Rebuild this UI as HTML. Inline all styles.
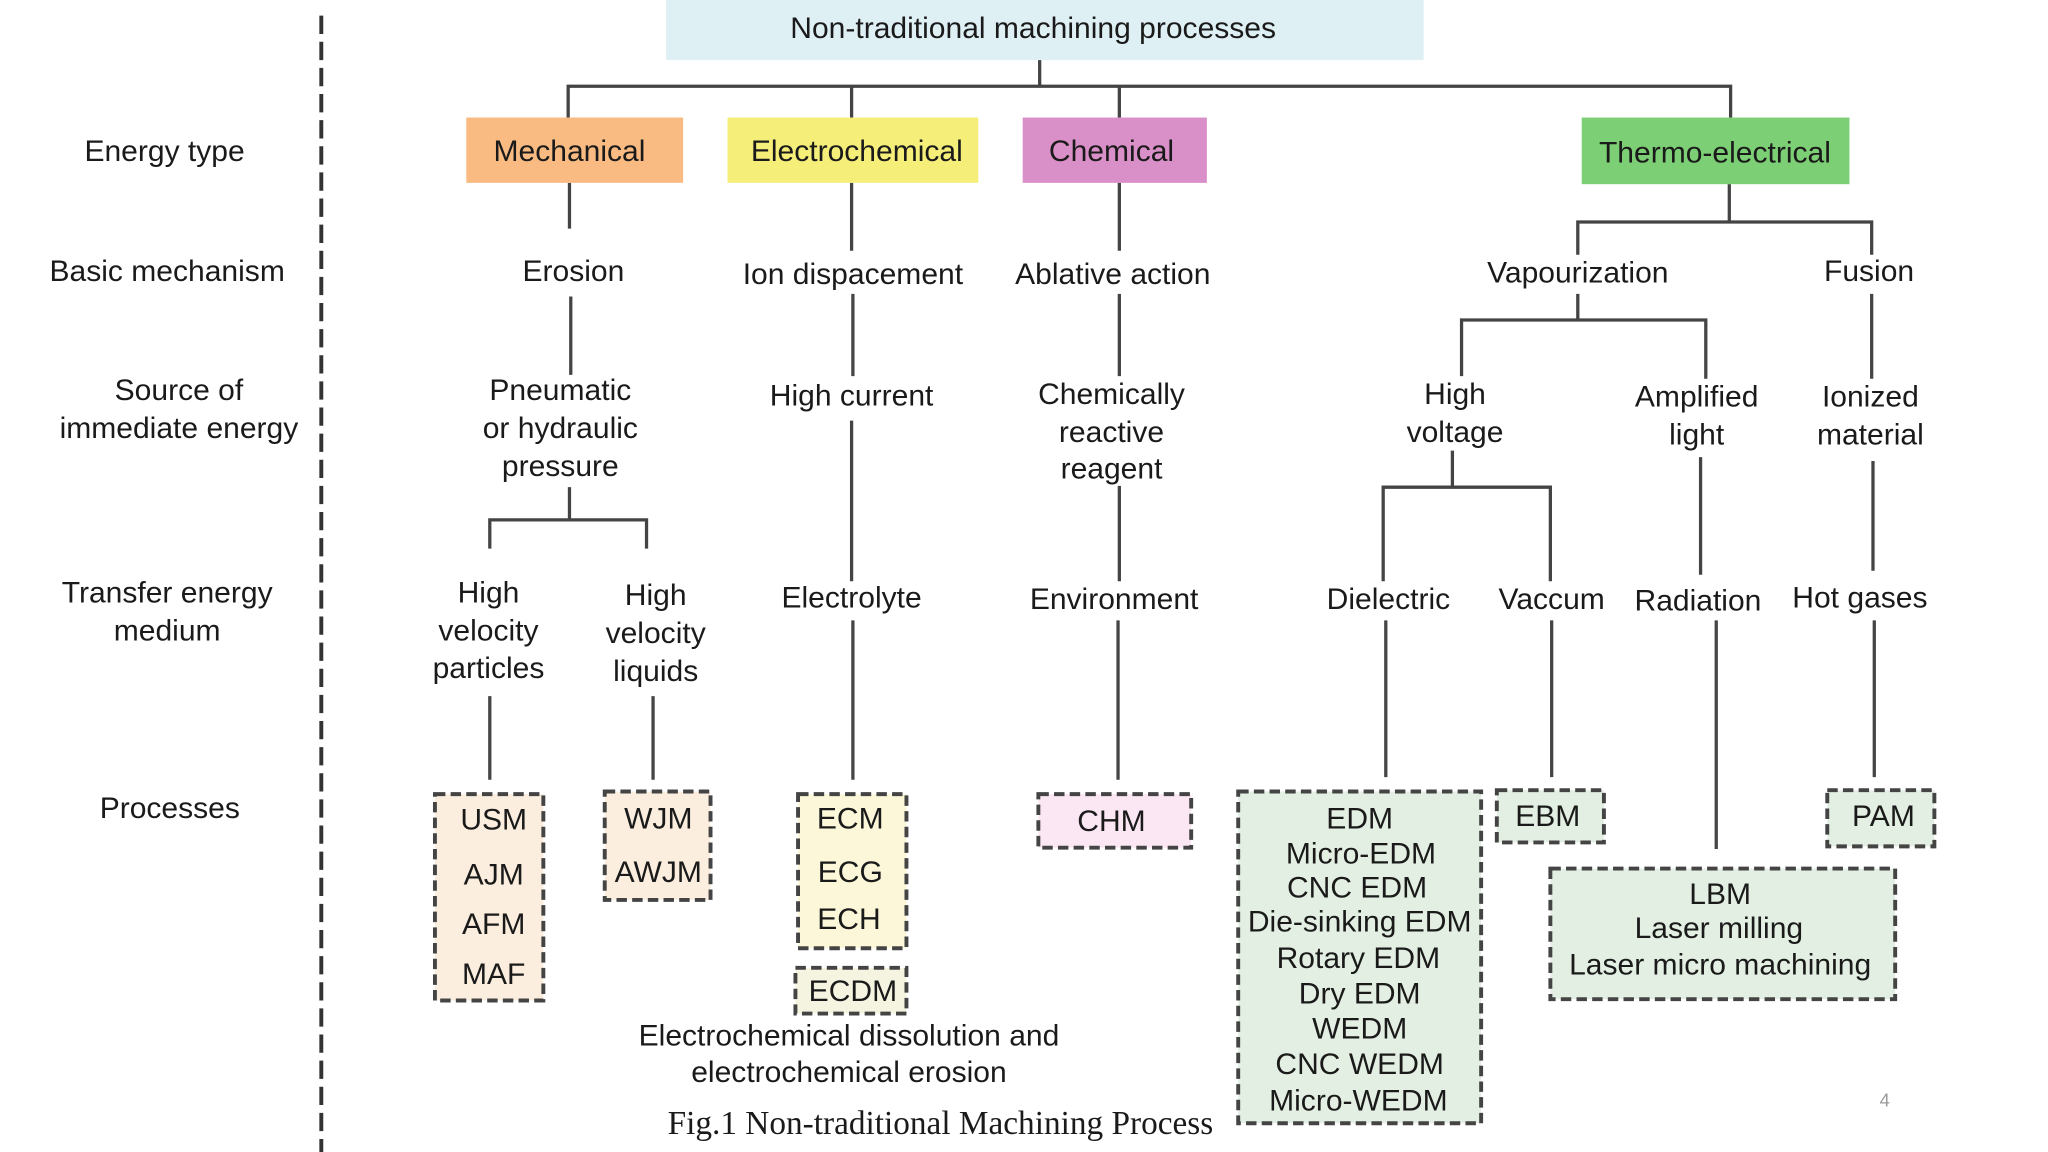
<!DOCTYPE html>
<html><head><meta charset="utf-8"><style>
html,body{margin:0;padding:0;background:#fff;width:2048px;height:1152px;overflow:hidden}
#w{width:1568px;height:882px;transform:scale(1.306122);transform-origin:0 0}
svg text{font-family:"Liberation Sans",sans-serif;font-size:23px;fill:#1a1a1a;text-anchor:middle;dominant-baseline:central}
</style></head><body><div id="w">
<svg width="1568" height="882" viewBox="0 0 1568 882">
<line x1="246" y1="12" x2="246" y2="882" stroke="#333" stroke-width="3" stroke-dasharray="14 6"/>
<rect x="510" y="0" width="580" height="46" fill="#dff0f5"/>
<text x="791" y="22">Non-traditional machining processes</text>
<g stroke="#444" stroke-width="2.5" fill="none">
<path d="M796 46V66M435 90V66H1325V90M652 66V90M857 66V90"/>
<path d="M436 140V175M437 227V287M436 373V398M375 420V398H495V420M375 533V597M500 533V597"/>
<path d="M652 140V192M653 225V288M652 322V445M653 475V597"/>
<path d="M857 140V192M857 225V288M857 372V445M856 475V597"/>
<path d="M1324 141V170M1208 195V170H1433V195M1208 225V245M1119 288V245H1306V290M1433 225V290"/>
<path d="M1112 345V373M1059 445V373H1187V445M1302 350V440M1434 353V437"/>
<path d="M1061 475V595M1188 475V595M1314 475V650M1435 475V595"/>
</g>
<rect x="357" y="90" width="166" height="50" fill="#f9bb82"/>
<rect x="557" y="90" width="192" height="50" fill="#f5ef7a"/>
<rect x="783" y="90" width="141" height="50" fill="#d98fc8"/>
<rect x="1211" y="90" width="205" height="51" fill="#7ccf74"/>
<text x="436" y="116">Mechanical</text>
<text x="656" y="116">Electrochemical</text>
<text x="851" y="116">Chemical</text>
<text x="1313" y="117">Thermo-electrical</text>
<text x="126" y="116">Energy type</text>
<text x="128" y="208">Basic mechanism</text>
<text x="137" y="299">Source of</text><text x="137" y="328">immediate energy</text>
<text x="128" y="454">Transfer energy</text><text x="128" y="483">medium</text>
<text x="130" y="619">Processes</text>
<text x="439" y="208">Erosion</text>
<text x="429" y="299">Pneumatic</text><text x="429" y="328">or hydraulic</text><text x="429" y="357">pressure</text>
<text x="374" y="454">High</text><text x="374" y="483">velocity</text><text x="374" y="512">particles</text>
<text x="502" y="456">High</text><text x="502" y="485">velocity</text><text x="502" y="514">liquids</text>
<text x="653" y="210">Ion dispacement</text>
<text x="652" y="303">High current</text>
<text x="652" y="458">Electrolyte</text>
<text x="852" y="210">Ablative action</text>
<text x="851" y="302">Chemically</text><text x="851" y="331">reactive</text><text x="851" y="359">reagent</text>
<text x="853" y="459">Environment</text>
<text x="1208" y="209">Vapourization</text>
<text x="1431" y="208">Fusion</text>
<text x="1114" y="302">High</text><text x="1114" y="331">voltage</text>
<text x="1299" y="304">Amplified</text><text x="1299" y="333">light</text>
<text x="1432" y="304">Ionized</text><text x="1432" y="333">material</text>
<text x="1063" y="459">Dielectric</text>
<text x="1188" y="459">Vaccum</text>
<text x="1300" y="460">Radiation</text>
<text x="1424" y="458">Hot gases</text>
<g stroke="#444" stroke-width="3" stroke-dasharray="8 4">
<rect x="333" y="608" width="83" height="158" fill="#fbeede"/>
<rect x="463" y="606" width="81" height="83" fill="#fbeede"/>
<rect x="611" y="608" width="83" height="118" fill="#fbf7d8"/>
<rect x="609" y="741" width="85" height="35" fill="#f4f4e0"/>
<rect x="795" y="608" width="117" height="41" fill="#fbe6f3"/>
<rect x="948" y="606" width="186" height="254" fill="#e3efe2"/>
<rect x="1146" y="605" width="82" height="40" fill="#e3efe2"/>
<rect x="1399" y="605" width="82" height="43" fill="#e3efe2"/>
<rect x="1187" y="665" width="264" height="100" fill="#e3efe2"/>
</g>
<text x="378" y="628">USM</text><text x="378" y="670">AJM</text><text x="378" y="708">AFM</text><text x="378" y="746">MAF</text>
<text x="504" y="627">WJM</text><text x="504" y="668">AWJM</text>
<text x="651" y="627">ECM</text><text x="651" y="668">ECG</text><text x="650" y="704">ECH</text>
<text x="653" y="759">ECDM</text>
<text x="650" y="793">Electrochemical dissolution and</text>
<text x="650" y="821">electrochemical erosion</text>
<text x="851" y="629">CHM</text>
<text x="1041" y="627">EDM</text><text x="1042" y="654">Micro-EDM</text><text x="1039" y="680">CNC EDM</text>
<text x="1041" y="706">Die-sinking EDM</text><text x="1040" y="734">Rotary EDM</text><text x="1041" y="761">Dry EDM</text>
<text x="1041" y="788">WEDM</text><text x="1041" y="815">CNC WEDM</text><text x="1040" y="843">Micro-WEDM</text>
<text x="1185" y="625">EBM</text>
<text x="1442" y="625">PAM</text>
<text x="1317" y="685">LBM</text><text x="1316" y="711">Laser milling</text><text x="1317" y="739">Laser micro machining</text>
<text x="720" y="860" style="font-family:'Liberation Serif',serif;font-size:25.5px">Fig.1 Non-traditional Machining Process</text>
<text x="1443" y="842" style="font-size:14px;fill:#999">4</text>
</svg></div></body></html>
